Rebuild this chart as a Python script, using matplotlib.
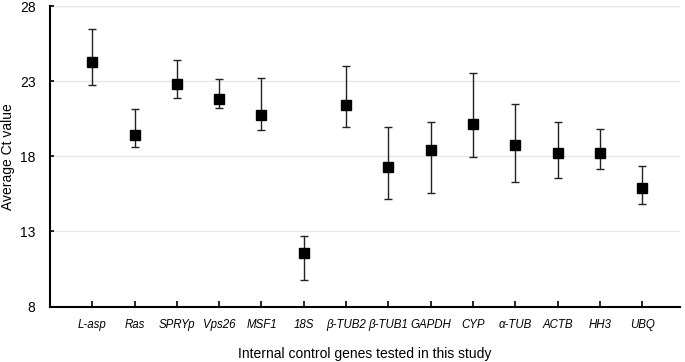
import matplotlib
matplotlib.use('Agg')
import matplotlib.pyplot as plt
import numpy as np

plt.rcParams['font.family'] = ['Liberation Sans', 'DejaVu Sans']

genes = ['L-asp', 'Ras', 'SPRYp', 'Vps26', 'MSF1', '18S', 'β-TUB2', 'β-TUB1',
         'GAPDH', 'CYP', 'α-TUB', 'ACTB', 'HH3', 'UBQ']
mean_ct = [24.25, 19.4, 22.84, 21.84, 20.73, 11.58, 21.4, 17.29,
           18.42, 20.18, 18.73, 18.24, 18.2, 15.89]
upper = [26.49, 21.13, 24.4, 23.15, 23.2, 12.69, 24.02, 19.98,
         20.29, 23.58, 21.49, 20.29, 19.84, 17.38]
lower = [22.73, 18.6, 21.91, 21.2, 19.73, 9.8, 19.98, 15.18,
         15.53, 17.95, 16.27, 16.53, 17.15, 14.8]

mean_ct = np.array(mean_ct)
err = [mean_ct - np.array(lower), np.array(upper) - mean_ct]
x = np.arange(1, len(genes) + 1)

fig = plt.figure(figsize=(6.85, 3.62), dpi=100)
ax = fig.add_axes([0.073, 0.153, 0.92, 0.83])

ax.errorbar(x, mean_ct, yerr=err, fmt='s', color='black', ms=6.5,
            ecolor='#222222', elinewidth=1, capsize=3, capthick=1, zorder=3)

ax.set_xlim(0, 14.9)
ax.set_ylim(8, 28)
ax.set_yticks([8, 13, 18, 23, 28])
ax.set_xticks(x)
ax.set_xticklabels(genes, fontstyle='italic', fontsize=8.3)
ax.tick_params(axis='x', direction='in', length=4, width=1.2, pad=9)
ax.tick_params(axis='y', direction='in', length=3, width=1.2, labelsize=10, pad=10.5)
ax.grid(axis='y', color='#e6e6e6', linewidth=1, zorder=0)
ax.set_axisbelow(True)

for s in ['top', 'right']:
    ax.spines[s].set_visible(False)
for s in ['left', 'bottom']:
    ax.spines[s].set_linewidth(1.5)

ax.set_ylabel('Average Ct value', fontsize=10)
ax.yaxis.set_label_coords(-0.0556, 0.5)
ax.set_xlabel('Internal control genes tested in this study', fontsize=10, labelpad=11.5)

plt.savefig('out.png', dpi=100)
plt.close()
